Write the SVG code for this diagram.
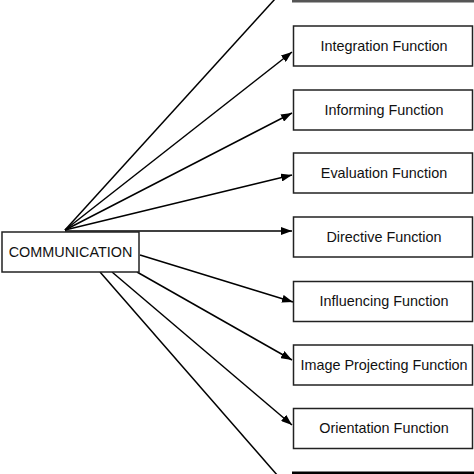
<svg xmlns="http://www.w3.org/2000/svg" width="474" height="474" viewBox="0 0 474 474">
<style>
.box{fill:#fff;stroke:#222;stroke-width:1.5}
.lbl{font-family:"Liberation Sans",Arial,sans-serif;font-size:14.4px;fill:#111;text-anchor:middle}
.ln{stroke:#000;stroke-width:1.5;fill:none}
.arr{marker-end:url(#ah)}
</style>
<defs>
<marker id="ah" markerUnits="userSpaceOnUse" markerWidth="11" markerHeight="8" refX="11" refY="4" orient="auto">
<path d="M0,0 L11,4 L0,8 z" fill="#000"/>
</marker>
</defs>
<rect width="474" height="474" fill="#fff"/>
<g id="connectors">
<line class="ln" x1="65" y1="230" x2="275" y2="-1"/>
<line class="ln arr" x1="65" y1="230" x2="292" y2="52"/>
<line class="ln arr" x1="65" y1="230" x2="292" y2="113"/>
<line class="ln arr" x1="65" y1="230" x2="292" y2="175"/>
<line class="ln arr" x1="65" y1="231" x2="292" y2="231"/>
<line class="ln arr" x1="140" y1="255" x2="293" y2="302"/>
<line class="ln arr" x1="137" y1="272" x2="292" y2="360"/>
<line class="ln arr" x1="112" y1="272" x2="292" y2="425"/>
<line class="ln" x1="100" y1="272" x2="278" y2="476"/>
</g>
<g id="node-top">
<rect x="293.5" y="-40" width="179" height="41" style="fill:#fff;stroke:#555;stroke-width:3"/>
</g>
<g id="node-communication">
<rect class="box" x="2" y="232" width="137" height="40"/>
<text class="lbl" x="70.5" y="257">COMMUNICATION</text>
</g>
<g id="node-integration">
<rect class="box" x="293.5" y="26" width="179" height="40"/>
<text class="lbl" x="384" y="50.5">Integration Function</text>
</g>
<g id="node-informing">
<rect class="box" x="293.5" y="90" width="179" height="40"/>
<text class="lbl" x="384" y="114.5">Informing Function</text>
</g>
<g id="node-evaluation">
<rect class="box" x="293.5" y="153" width="179" height="40"/>
<text class="lbl" x="384" y="177.5">Evaluation Function</text>
</g>
<g id="node-directive">
<rect class="box" x="293.5" y="217" width="179" height="40"/>
<text class="lbl" x="384" y="241.5">Directive Function</text>
</g>
<g id="node-influencing">
<rect class="box" x="293.5" y="281.5" width="179" height="40"/>
<text class="lbl" x="384" y="306">Influencing Function</text>
</g>
<g id="node-image">
<rect class="box" x="293.5" y="345" width="179" height="40"/>
<text class="lbl" x="384" y="369.5">Image Projecting Function</text>
</g>
<g id="node-orientation">
<rect class="box" x="293.5" y="408.5" width="179" height="40"/>
<text class="lbl" x="384" y="433">Orientation Function</text>
</g>
<g id="node-bottom">
<rect x="293.5" y="473" width="179" height="40" style="fill:#fff;stroke:#000;stroke-width:3"/>
</g>
</svg>
